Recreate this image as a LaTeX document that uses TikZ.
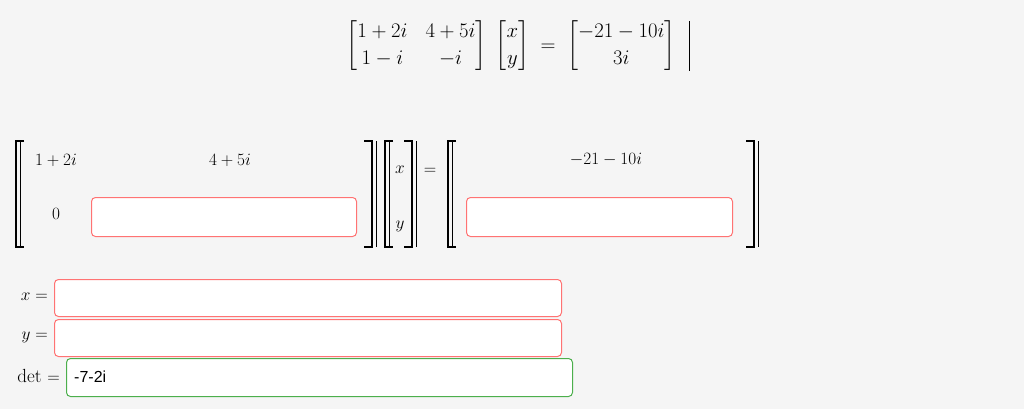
\documentclass[tikz,border=0pt]{standalone}
\usepackage{amsmath}
\usepackage{fontspec}
\newfontfamily\inpfont{Liberation Sans}
\begin{document}
\begin{tikzpicture}[x=1pt,y=-1pt,
  lbl/.style={inner sep=0pt,font=\fontsize{19}{22}\selectfont},
  inbox/.style={draw=#1,fill=white,rounded corners=4pt,line width=1pt},
  brk/.style={line width=1.5pt}]
\fill[white!96!black] (0,0) rectangle (1024,409);
\useasboundingbox (0,0) rectangle (1024,409);
% top equation
\node[inner sep=0pt,font=\fontsize{20}{27}\selectfont] (top) at (511,46)
 {\setlength\arraycolsep{9pt}$\begin{bmatrix}1+2i & 4+5i\\ 1-i & -i\end{bmatrix}\;\begin{bmatrix}x\\ y\end{bmatrix}\;=\;\begin{bmatrix}-21-10i\\ 3i\end{bmatrix}$};
\draw[line width=0.8pt] (689,21) -- (689,71);
% middle brackets
\newcommand\lbrk[3]{\draw[brk] (#1+8,#2)--(#1,#2)--(#1,#3)--(#1+8,#3); \draw[line width=0.7pt] (#1+4,#2)--(#1+4,#3);}
\newcommand\rbrk[3]{\draw[brk] (#1-8,#2)--(#1,#2)--(#1,#3)--(#1-8,#3); \draw[line width=0.7pt] (#1+4,#2)--(#1+4,#3);}
\lbrk{16}{141}{247}
\rbrk{372}{141}{247}
\lbrk{385}{141}{247}
\rbrk{412}{141}{247}
\lbrk{448}{141}{247}
\rbrk{754}{141}{247}
\node[lbl] (a11) at (56,160) {$1+2i$};
\node[lbl] (a12) at (230,160) {$4+5i$};
\node[lbl] (a21) at (56,214) {$0$};
\node[lbl] (x) at (400,170) {$x$};
\node[lbl] (y) at (400,226) {$y$};
\node[lbl] (eq) at (430,171) {$=$};
\node[lbl] (b1) at (606,160) {$-21-10i$};
\node[inbox=red!55, minimum width=265, minimum height=39, anchor=north west] (in1) at (91,197) {};
\node[inbox=red!55, minimum width=266, minimum height=39, anchor=north west] (in2) at (466,197) {};
% bottom
\node[lbl,anchor=east] (xl) at (48,297) {$x=$};
\node[lbl,anchor=east] (yl) at (48,337) {$y=$};
\node[lbl,anchor=east] (dl) at (60,376) {det $=$};
\node[inbox=red!55, minimum width=507, minimum height=37, anchor=north west] (ix) at (54,279) {};
\node[inbox=red!55, minimum width=507, minimum height=37, anchor=north west] (iy) at (54,319) {};
\node[inbox=green!55!black!70, minimum width=506, minimum height=38, anchor=north west] (id) at (66,358) {};
\node[anchor=west,inner sep=0pt,font=\inpfont\fontsize{16}{18}\selectfont] (dv) at (74,377) {-7-2i};
\end{tikzpicture}
\end{document}
